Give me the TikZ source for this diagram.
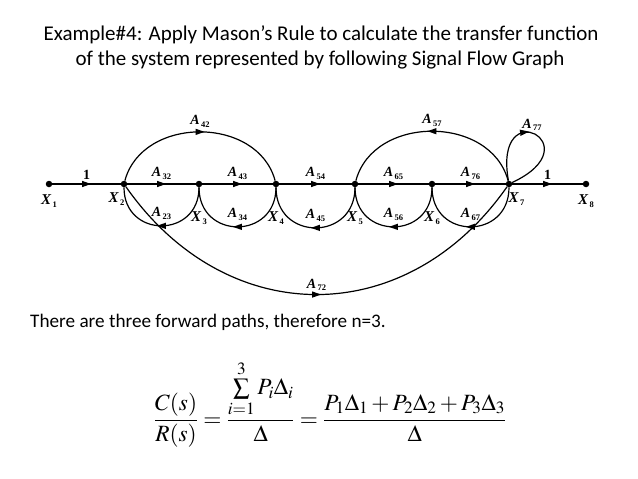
\documentclass[tikz,border=0pt]{standalone}
\usepackage{mathptmx}
\usepackage{fontspec}
\setmainfont{Carlito}
\newfontfamily\graphfont{Liberation Serif}
\usetikzlibrary{positioning, arrows.meta, decorations.markings}

% gain label: bold italic letter with bold index
\newcommand{\gain}[2]{{\graphfont\bfseries\itshape #1}\raisebox{-0.4ex}{\graphfont\bfseries\fontsize{8.5}{8.5}\selectfont\,#2}}

\tikzset{
    dot/.style={circle, fill=black, inner sep=0pt, minimum size=6.5pt},
    branch/.style={line width=1.2pt},
    mid/.style={postaction={decorate}, decoration={markings,
        mark=at position #1 with {\fill (4.5pt,0pt) -- (-4.5pt,3.2pt) -- (-4.5pt,-3.2pt) -- cycle;}}},
    mid/.default=0.5,
    lbl/.style={font=\graphfont\fontsize{14}{14}\selectfont, inner sep=1pt},
    vlab/.style={font=\graphfont\fontsize{15}{15}\selectfont, inner sep=0pt},
    txt/.style={font=\fontsize{21}{25}\selectfont, inner sep=0pt}
}

\begin{document}
\begin{tikzpicture}[x=1pt, y=-1pt]
    \useasboundingbox (0,0) rectangle (638,479);

    % title and text
    \node[txt, anchor=base] (title1) at (321,41) {Example\#4: Apply Mason’s Rule to calculate the transfer function};
    \node[txt, anchor=base] (title2) at (320,65) {of the system represented by following Signal Flow Graph};
    \node[txt, anchor=base west, font=\fontsize{19.2}{23}\selectfont] (paths) at (30,327) {There are three forward paths, therefore n=3.};

    % signal nodes
    \node[dot] (x1) at (49,184) {};
    \node[dot] (x2) at (124,184) {};
    \node[dot] (x3) at (199,184) {};
    \node[dot] (x4) at (276,184) {};
    \node[dot] (x5) at (355,184) {};
    \node[dot] (x6) at (432,184) {};
    \node[dot] (x7) at (509,184) {};
    \node[dot] (x8) at (586,184) {};

    \node[vlab, below=7pt of x1] (n1) {\gain{X}{1}};
    \node[vlab, below left=6pt and -3pt of x2] (n2) {\gain{X}{2}};
    \node[vlab, below=24pt of x3] (n3) {\gain{X}{3}};
    \node[vlab, below=24pt of x4] (n4) {\gain{X}{4}};
    \node[vlab, below=24pt of x5] (n5) {\gain{X}{5}};
    \node[vlab, below=24pt of x6] (n6) {\gain{X}{6}};
    \node[vlab, below right=6pt and -3pt of x7] (n7) {\gain{X}{7}};
    \node[vlab, below=7pt of x8] (n8) {\gain{X}{8}};

    % forward branches
    \draw[branch, mid] (x1) -- (x2) node[lbl, midway, above=3pt] (l21) {\textbf{1}};
    \draw[branch, mid] (x2) -- (x3) node[lbl, midway, above=3pt] (l32) {\gain{A}{32}};
    \draw[branch, mid] (x3) -- (x4) node[lbl, midway, above=3pt] (l43) {\gain{A}{43}};
    \draw[branch, mid] (x4) -- (x5) node[lbl, midway, above=3pt] (l54) {\gain{A}{54}};
    \draw[branch, mid] (x5) -- (x6) node[lbl, midway, above=3pt] (l65) {\gain{A}{65}};
    \draw[branch, mid] (x6) -- (x7) node[lbl, midway, above=3pt] (l76) {\gain{A}{76}};
    \draw[branch, mid] (x7) -- (x8) node[lbl, midway, above=3pt] (l87) {\textbf{1}};

    % feedback half circles
    \draw[branch, mid] (x3) to[out=-90, in=-90, looseness=1.75] node[lbl, above=5pt] (l23) {\gain{A}{23}} (x2);
    \draw[branch, mid] (x4) to[out=-90, in=-90, looseness=1.75] node[lbl, above=5pt] (l34) {\gain{A}{34}} (x3);
    \draw[branch, mid] (x5) to[out=-90, in=-90, looseness=1.75] node[lbl, above=5pt] (l45) {\gain{A}{45}} (x4);
    \draw[branch, mid] (x6) to[out=-90, in=-90, looseness=1.75] node[lbl, above=5pt] (l56) {\gain{A}{56}} (x5);
    \draw[branch, mid] (x7) to[out=-90, in=-90, looseness=1.75] node[lbl, above=5pt] (l67) {\gain{A}{67}} (x6);

    % long branches
    \draw[branch, mid] (x2) to[out=75, in=105, looseness=1.15] node[lbl, above=3pt] (l42) {\gain{A}{42}} (x4);
    \draw[branch, mid] (x7) to[out=105, in=75, looseness=1.15] node[lbl, above=3pt] (l57) {\gain{A}{57}} (x5);
    \draw[branch, mid] (x2) to[out=-55, in=-125, looseness=1.18] node[lbl, above=2pt] (l72) {\gain{A}{72}} (x7);
    \draw[branch, mid=0.42] (x7) to[out=100, in=25, min distance=90] (x7);
    \node[lbl] (l77) at (532,125) {\gain{A}{77}};

    % transfer function
    \node[anchor=base, inner sep=0pt, font=\fontsize{23.3}{28}\selectfont] (tf) at (330,426)
        {$\displaystyle \frac{C(s)}{R(s)} = \frac{\textstyle\sum\limits_{i=1}^{3} P_i\Delta_i}{\Delta}
         = \frac{P_1\Delta_1 + P_2\Delta_2 + P_3\Delta_3}{\Delta}$};
\end{tikzpicture}
\end{document}
